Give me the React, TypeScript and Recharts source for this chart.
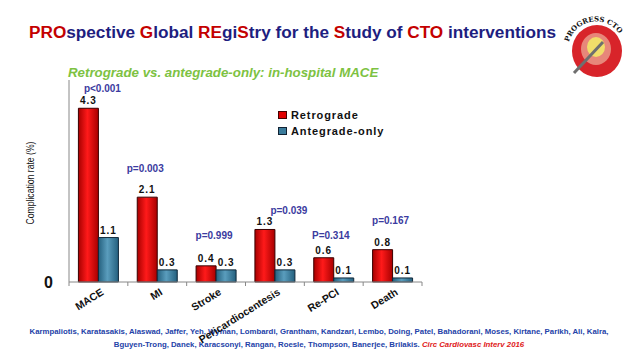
import React from 'react'
import { ComposedChart, Bar, Line, XAxis, YAxis, Legend, LabelList } from 'recharts'

const categories = ['MACE', 'MI', 'Stroke', 'Pericardiocentesis', 'Re-PCI', 'Death']
const retrograde = [4.3, 2.1, 0.4, 1.3, 0.6, 0.8]
const antegradeOnly = [1.1, 0.3, 0.3, 0.3, 0.1, 0.1]
const pValues = ['p<0.001', 'p=0.003', 'p=0.999', 'p=0.039', 'P=0.314', 'p=0.167']
// height (in %) where each p-value annotation sits, and a small sideways nudge
const pLabelAt = [4.78, 2.8, 1.14, 1.76, 1.16, 1.53]
const pNudge = [4, -12, -2, 14, -3, -2]

const data = categories.map((name, i) => ({
  name,
  retro: retrograde[i],
  ante: antegradeOnly[i],
  pAt: pLabelAt[i],
}))

const FONT = "'Liberation Sans', Arial, sans-serif"
const PLOT_LEFT = 69
const PLOT_RIGHT = 422
const BAND = (PLOT_RIGHT - PLOT_LEFT) / categories.length

const XTick = (props: any) => {
  const { x, y, payload, index } = props
  return (
    <g>
      <line x1={x - BAND / 2} x2={x - BAND / 2} y1={y} y2={y + 4} stroke="#888" />
      {index === categories.length - 1 && (
        <line x1={x + BAND / 2} x2={x + BAND / 2} y1={y} y2={y + 4} stroke="#888" />
      )}
      <g transform={`translate(${x + 6},${y + 12}) rotate(-32)`}>
        <text x={0} y={0} textAnchor="end" fontFamily={FONT} fontWeight="bold" fontSize={10.5} fill="#111">
          {payload.value}
        </text>
      </g>
    </g>
  )
}

const valueLabel = (props: any) => {
  const { x, y, width, value } = props
  return (
    <text
      x={x + width / 2}
      y={y - 4}
      textAnchor="middle"
      fontFamily={FONT}
      fontWeight="bold"
      fontSize={10}
      letterSpacing={1}
      fill="#111"
    >
      {Number(value).toFixed(1)}
    </text>
  )
}

const pLabel = (props: any) => {
  const { x, y, index } = props
  return (
    <text
      x={x + pNudge[index]}
      y={y}
      dominantBaseline="central"
      textAnchor="middle"
      fontFamily={FONT}
      fontWeight="bold"
      fontSize={10}
      fill="#3b3ba0"
    >
      {pValues[index]}
    </text>
  )
}

const LegendBox = () => (
  <div style={{ fontFamily: FONT, fontWeight: 'bold', fontSize: 11, letterSpacing: 0.9, color: '#111' }}>
    {[
      { label: 'Retrograde', color: '#e00000', border: '#400' },
      { label: 'Antegrade-only', color: '#3b7c9c', border: '#123' },
    ].map((it) => (
      <div key={it.label} style={{ display: 'flex', alignItems: 'center', height: 16 }}>
        <span
          style={{
            width: 7,
            height: 6,
            background: it.color,
            border: `1px solid ${it.border}`,
            marginRight: 4,
            display: 'inline-block',
          }}
        />
        {it.label}
      </div>
    ))}
  </div>
)

const Logo = () => (
  <svg width={78} height={95} style={{ position: 'absolute', left: 560, top: 0 }}>
    <defs>
      <path id="arc" d="M 9 42 A 28 28 0 0 1 63 42" />
    </defs>
    <ellipse cx={37} cy={51} rx={25} ry={26} fill="#d8242a" />
    <ellipse cx={36} cy={49} rx={15} ry={16} fill="#e7877a" />
    <ellipse cx={36} cy={47} rx={9} ry={10} fill="#f1de6a" />
    <line x1={14} y1={73} x2={43} y2={42} stroke="#6f6f6f" strokeWidth={3} />
    <text fontFamily="'DejaVu Serif', serif" fontWeight="bold" fontSize={7} fill="#111">
      <textPath href="#arc">PROGRESS CTO</textPath>
    </text>
  </svg>
)

const R = '#c40000'
const B = '#1e1e80'

export default function App() {
  return (
    <div style={{ position: 'absolute', left: 0, top: 0, width: 638, height: 359, background: '#fff', fontFamily: FONT }}>
      <div style={{ position: 'absolute', left: 29, top: 23, fontSize: 17.2, lineHeight: '19px', fontWeight: 'bold', whiteSpace: 'nowrap', color: B }}>
        <span style={{ color: R }}>PRO</span>spective <span style={{ color: R }}>G</span>lobal{' '}
        <span style={{ color: R }}>RE</span>gi<span style={{ color: R }}>S</span>try for the{' '}
        <span style={{ color: R }}>S</span>tudy of <span style={{ color: R }}>CTO</span> interventions
      </div>
      <Logo />
      <div style={{ position: 'absolute', left: 68, top: 65, fontSize: 13.3, lineHeight: '16px', fontWeight: 'bold', fontStyle: 'italic', color: '#7dc242', whiteSpace: 'nowrap' }}>
        Retrograde vs. antegrade-only: in-hospital MACE
      </div>
      <div style={{ position: 'absolute', left: 0, top: 325, width: 638, textAlign: 'center', fontSize: 7.8, lineHeight: '13px', fontWeight: 'bold', color: '#2342a8', whiteSpace: 'nowrap' }}>
        <div>
          Karmpaliotis, Karatasakis, Alaswad, Jaffer, Yeh, Wyman, Lombardi, Grantham, Kandzari, Lembo, Doing, Patel, Bahadorani, Moses, Kirtane, Parikh, Ali, Kalra,
        </div>
        <div>
          Bguyen-Trong, Danek, Karacsonyi, Rangan, Roesle, Thompson, Banerjee, Brilakis.{' '}
          <span style={{ color: '#e02020', fontStyle: 'italic' }}>Circ Cardiovasc Interv 2016</span>
        </div>
      </div>
      <div style={{ position: 'absolute', left: 0, top: 0 }}>
        <ComposedChart
          width={638}
          height={359}
          data={data}
          margin={{ top: 80, right: 638 - PLOT_RIGHT, left: 0, bottom: 0 }}
          barGap={0}
          barCategoryGap="16%"
        >
          <defs>
            <linearGradient id="gRed" x1="0" y1="0" x2="1" y2="0">
              <stop offset="0%" stopColor="#a80000" />
              <stop offset="45%" stopColor="#ff1a1a" />
              <stop offset="100%" stopColor="#a80000" />
            </linearGradient>
            <linearGradient id="gBlue" x1="0" y1="0" x2="1" y2="0">
              <stop offset="0%" stopColor="#24607e" />
              <stop offset="45%" stopColor="#5a9dbd" />
              <stop offset="100%" stopColor="#24607e" />
            </linearGradient>
          </defs>
          <XAxis
            dataKey="name"
            height={77}
            interval={0}
            tickLine={false}
            tickSize={0}
            tickMargin={0}
            stroke="#888"
            tick={<XTick />}
          />
          <YAxis
            width={PLOT_LEFT}
            domain={[0, 5]}
            ticks={[0]}
            tickLine={false}
            tickSize={8}
            tickMargin={8}
            stroke="#888"
            tick={{ fill: '#111', fontSize: 16, fontWeight: 'bold', fontFamily: FONT }}
            label={{
              value: 'Complication rate (%)',
              content: (p: any) => {
                const vb = p.viewBox
                const cy = vb.y + vb.height / 2
                return (
                  <text
                    transform={`translate(34,${cy + 2}) rotate(-90)`}
                    textAnchor="middle"
                    fontFamily={FONT}
                    fontSize={10.5}
                    textLength={83}
                    lengthAdjust="spacingAndGlyphs"
                    fill="#111"
                  >
                    Complication rate (%)
                  </text>
                )
              },
            }}
          />
          <Legend
            layout="vertical"
            align="center"
            verticalAlign="middle"
            wrapperStyle={{ left: 278, top: 107, width: 'auto' }}
            content={<LegendBox />}
          />
          <Bar dataKey="retro" fill="url(#gRed)" stroke="#3a0000" strokeWidth={1} isAnimationActive={false}>
            <LabelList dataKey="retro" content={valueLabel} />
          </Bar>
          <Bar dataKey="ante" fill="url(#gBlue)" stroke="#10283a" strokeWidth={1} isAnimationActive={false}>
            <LabelList dataKey="ante" content={valueLabel} />
          </Bar>
          <Line
            dataKey="pAt"
            stroke="none"
            dot={false}
            activeDot={false}
            legendType="none"
            isAnimationActive={false}
          >
            <LabelList dataKey="pAt" content={pLabel} />
          </Line>
        </ComposedChart>
      </div>
    </div>
  )
}
